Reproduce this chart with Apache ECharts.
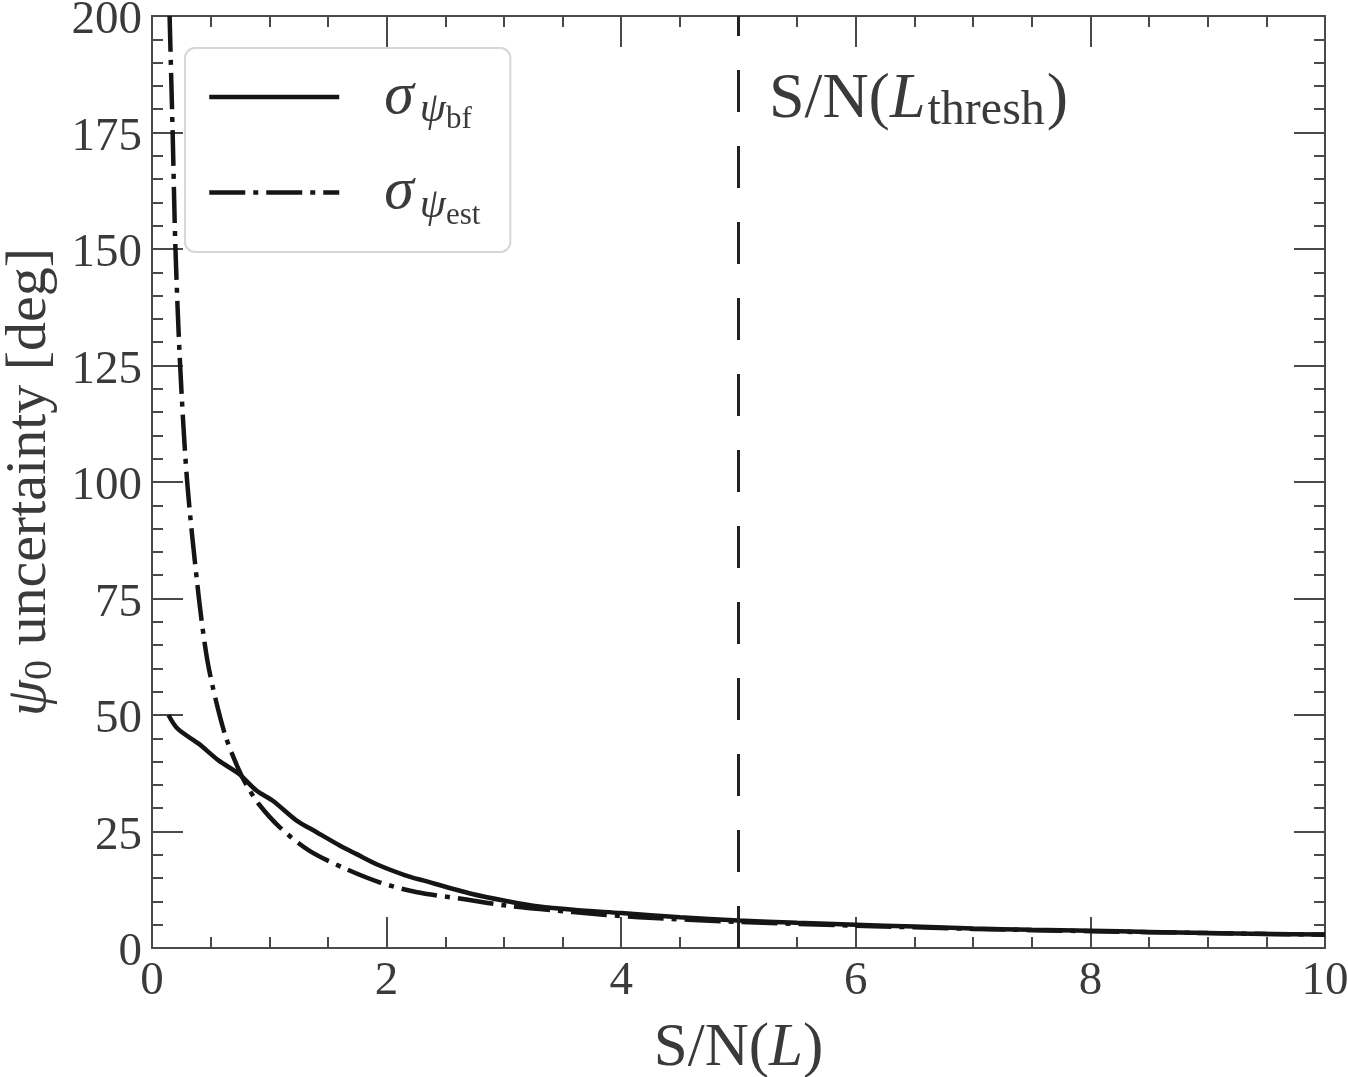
<!DOCTYPE html>
<html><head><meta charset="utf-8">
<script src="https://cdn.jsdelivr.net/npm/echarts@6/dist/echarts.min.js"></script>
<style>html,body{margin:0;padding:0;background:#fff}#c{width:1348px;height:1077px}</style>
</head><body><div id="c"></div>
<script>
// ---- data ----
const snrBf   = [0.14, 0.22, 0.40, 0.57, 0.74, 0.89, 1.03, 1.23, 1.40, 1.60, 1.74, 1.94, 2.16, 2.31, 2.73, 3.02, 3.30, 3.59, 4.0, 4.5, 5.0, 5.5, 6.0, 6.5, 7.0, 7.5, 8.0, 8.5, 9.0, 9.5, 10.0];
const sigmaBf = [50.0, 47.0, 43.8, 40.2, 37.4, 33.8, 31.6, 27.4, 24.9, 22.0, 20.2, 17.7, 15.6, 14.5, 11.6, 10.1, 8.9, 8.2, 7.5, 6.6, 5.9, 5.4, 5.0, 4.6, 4.2, 3.9, 3.7, 3.45, 3.2, 3.0, 2.9];
const snrEst   = [0.15, 0.176, 0.20, 0.24, 0.30, 0.40, 0.47, 0.545, 0.63, 0.73, 0.80, 0.91, 1.09, 1.34, 1.65, 1.94, 2.25, 2.68, 3.02, 3.59, 4.15, 5.0, 6.0, 7.0, 8.0, 9.0, 10.0];
const sigmaEst = [200, 175, 150, 125, 100, 75, 62, 53.1, 45.2, 38.8, 35.2, 30.9, 25.9, 20.9, 17.0, 14.1, 12.0, 10.4, 9.1, 7.7, 6.6, 5.6, 4.8, 4.1, 3.6, 3.2, 2.85];
const threshSnr = 5;
const xRange = [0, 10, 2];    // min, max, interval
const yRange = [0, 200, 25];
const labelY = 182;           // height of the threshold annotation
const seriesNames = ['bf', 'est'];

const FONT = 'Liberation Serif';
const AX = '#4a4a4a';
const TXT = '#3a3a3a';
const INK = '#151515';

function xAx(pos, showLabel) {
  return {
    type: 'value', position: pos, min: xRange[0], max: xRange[1], interval: xRange[2],
    axisLine: { show: true, onZero: false, lineStyle: { color: AX, width: 2 } },
    axisTick: { show: true, inside: true, length: 31, lineStyle: { color: AX, width: 2 } },
    minorTick: { show: true, splitNumber: 4, length: 11, lineStyle: { color: AX, width: 2 } },
    axisLabel: { show: showLabel, margin: 10, fontFamily: FONT, fontSize: 47, color: TXT, showMinLabel: true, showMaxLabel: true },
    splitLine: { show: false }, minorSplitLine: { show: false },
    name: showLabel ? '{n|S/N(}{i|L}{n|)}' : '',
    nameLocation: 'middle', nameGap: 70,
    nameTextStyle: {
      rich: {
        n: { fontFamily: FONT, fontSize: 61, color: TXT },
        i: { fontFamily: FONT, fontSize: 61, fontStyle: 'italic', color: TXT }
      }
    }
  };
}
function yAx(pos, showLabel) {
  return {
    type: 'value', position: pos, min: yRange[0], max: yRange[1], interval: yRange[2],
    axisLine: { show: true, onZero: false, lineStyle: { color: AX, width: 2 } },
    axisTick: { show: true, inside: true, length: 31, lineStyle: { color: AX, width: 2 } },
    minorTick: { show: true, splitNumber: 5, length: 11, lineStyle: { color: AX, width: 2 } },
    axisLabel: {
      show: showLabel, margin: 10, showMinLabel: true, showMaxLabel: true,
      formatter: v => '{v|' + v + '}',
      rich: { v: { fontFamily: FONT, fontSize: 47, color: TXT, verticalAlign: 'middle', padding: [10, 0, 0, 0] } }
    },
    splitLine: { show: false }, minorSplitLine: { show: false },
    name: showLabel ? '{i|ψ}{sub|0}{n| uncertainty [deg]}' : '',
    nameLocation: 'middle', nameGap: 88, nameRotate: 90,
    nameTextStyle: {
      rich: {
        i: { fontFamily: FONT, fontSize: 58, fontStyle: 'italic', color: TXT, lineHeight: 64, verticalAlign: 'middle' },
        sub: { fontFamily: FONT, fontSize: 40, color: TXT, padding: [22, 0, 0, 0], verticalAlign: 'middle' },
        n: { fontFamily: FONT, fontSize: 58, color: TXT, lineHeight: 64, verticalAlign: 'middle' }
      }
    }
  };
}

const zip = (a, b) => a.map((v, i) => [v, b[i]]);

const legendRich = {
  s: { fontFamily: FONT, fontSize: 60, fontStyle: 'italic', color: TXT, lineHeight: 62, verticalAlign: 'middle', padding: [0, 0, 0, 40] },
  p: { fontFamily: FONT, fontSize: 42, fontStyle: 'italic', color: TXT, verticalAlign: 'middle', padding: [26, 0, 0, 6] },
  q: { fontFamily: FONT, fontSize: 31, color: TXT, verticalAlign: 'middle', padding: [46, 0, 0, 0] }
};

const chart = echarts.init(document.getElementById('c'), null, { renderer: 'canvas' });
chart.setOption({
  backgroundColor: '#fff',
  animation: false,
  grid: { left: 152, right: 23, top: 16, bottom: 129, containLabel: false, outerBoundsMode: 'none' },
  xAxis: [xAx('bottom', true), xAx('top', false)],
  yAxis: [yAx('left', true), yAx('right', false)],
  legend: {
    left: 185, top: 48, orient: 'vertical',
    padding: [19, 30, 21, 22],
    itemGap: 27, itemWidth: 130, itemHeight: 16,
    backgroundColor: '#fff', borderColor: '#d6d6d6', borderWidth: 2, borderRadius: 10,
    data: seriesNames,
    formatter: n => '{s|σ}{p|ψ}{q|' + n + '}',
    itemStyle: { opacity: 0 },
    lineStyle: { width: 4.5, color: INK },
    textStyle: { rich: legendRich }
  },
  series: [
    {
      name: 'bf', type: 'line', data: zip(snrBf, sigmaBf), showSymbol: false, symbol: 'none',
      itemStyle: { color: INK },
      smooth: 0.3, lineStyle: { color: INK, width: 4.5, type: 'solid' }, z: 3,
      markLine: {
        silent: true, symbol: 'none', label: { show: false },
        lineStyle: { type: [42, 34], dashOffset: 0, color: '#222', width: 3 },
        data: [{ xAxis: threshSnr }]
      },
      markPoint: {
        silent: true, symbol: 'circle', symbolSize: 1, itemStyle: { color: 'rgba(0,0,0,0)' },
        data: [{ coord: [threshSnr, labelY] }],
        label: {
          show: true, position: 'right', distance: 30,
          formatter: '{n|S/N(}{i|L}{sub|thresh}{n|)}',
          rich: {
            n: { fontFamily: FONT, fontSize: 64, color: TXT, lineHeight: 70, verticalAlign: 'middle' },
            i: { fontFamily: FONT, fontSize: 64, fontStyle: 'italic', color: TXT, lineHeight: 70, verticalAlign: 'middle' },
            sub: { fontFamily: FONT, fontSize: 48, color: TXT, verticalAlign: 'middle', padding: [24, 2, 0, 2] }
          }
        }
      }
    },
    {
      name: 'est', type: 'line', data: zip(snrEst, sigmaEst), showSymbol: false, symbol: 'none',
      itemStyle: { color: INK },
      smooth: 0.3, lineStyle: { color: INK, width: 4.5, type: [36, 8, 5, 8] }, z: 2
    }
  ]
});
</script></body></html>
